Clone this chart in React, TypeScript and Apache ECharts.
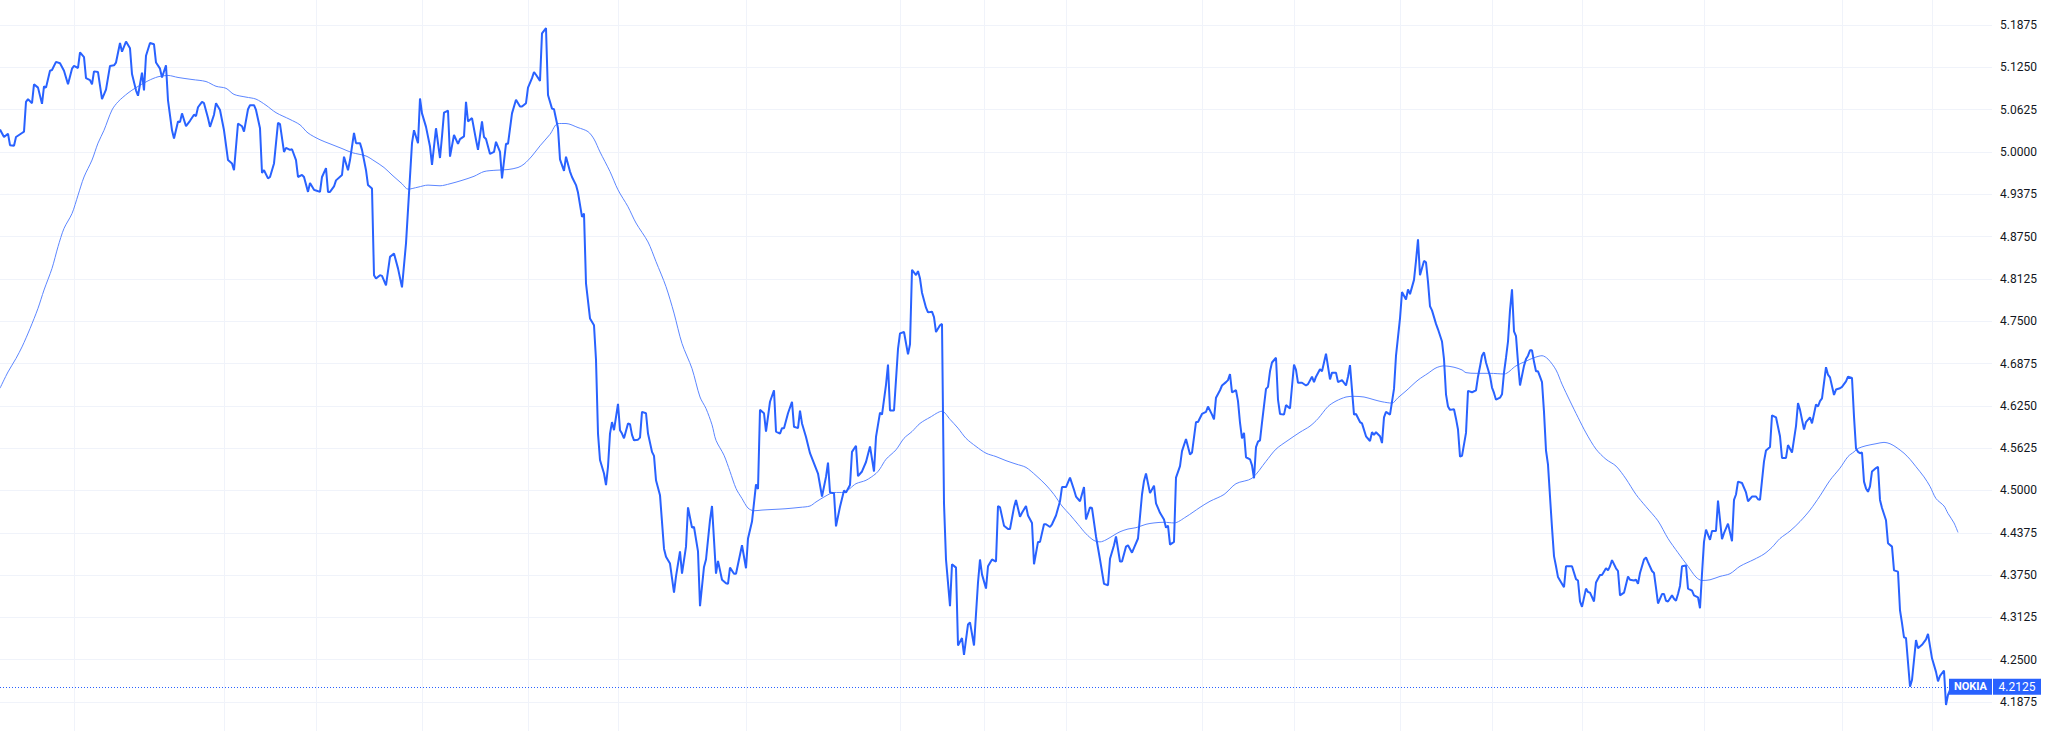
import React, { useEffect, useRef } from 'react';
import * as echarts from 'echarts';

const symbolName = 'NOKIA';
const sessionCount = 997;
const sessions = Array.from({ length: sessionCount }, (_, i) => String(i));
// sessions where the time-scale grid lines fall
const gridSessions = [37, 112, 158, 211, 264, 309, 373, 450, 492, 533, 601, 647, 700, 746, 791, 852, 921, 966];
const yMin = 4.1875;
const yMax = 5.1875;
const yStep = 0.0625;

// [session, close]
const price: [number, number][] = [
  [0,5.033],[2,5.022],[4,5.027],[5,5.010],[7,5.009],[8,5.022],[11,5.028],[12,5.030],[13,5.074],[14,5.078],[16,5.072],[17,5.100],[19,5.095],[21,5.071],[22,5.097],[23,5.095],[25,5.120],[26,5.121],[28,5.133],[30,5.131],[32,5.120],[34,5.100],[36,5.123],[37,5.127],[39,5.124],[40,5.147],[42,5.140],[43,5.109],[45,5.106],[46,5.100],[47,5.119],[49,5.118],[51,5.078],[53,5.092],[55,5.127],[57,5.128],[58,5.132],[60,5.161],[61,5.148],[63,5.163],[65,5.153],[66,5.115],[68,5.091],[69,5.083],[71,5.117],[72,5.091],[73,5.142],[75,5.161],[77,5.159],[78,5.132],[80,5.123],[81,5.110],[83,5.128],[84,5.076],[86,5.032],[87,5.020],[89,5.045],[90,5.044],[91,5.057],[93,5.038],[95,5.046],[97,5.055],[98,5.053],[99,5.066],[101,5.074],[102,5.072],[104,5.050],[105,5.037],[107,5.055],[108,5.072],[110,5.062],[112,5.032],[113,5.010],[114,4.988],[116,4.983],[117,4.973],[119,5.042],[121,5.038],[122,5.030],[124,5.063],[125,5.069],[127,5.069],[128,5.062],[130,5.035],[131,4.969],[132,4.973],[134,4.961],[135,4.963],[137,4.983],[139,5.043],[140,5.041],[142,5.000],[143,5.006],[145,5.003],[146,5.004],[148,4.988],[149,4.963],[151,4.966],[152,4.963],[154,4.941],[155,4.954],[157,4.944],[158,4.943],[160,4.941],[161,4.963],[163,4.976],[164,4.941],[165,4.941],[167,4.949],[168,4.958],[171,4.966],[172,4.993],[174,4.973],[175,4.988],[177,5.028],[178,5.013],[180,5.013],[181,5.003],[183,4.973],[184,4.951],[186,4.946],[187,4.818],[188,4.813],[190,4.818],[191,4.817],[193,4.803],[195,4.845],[197,4.850],[199,4.828],[201,4.800],[203,4.865],[206,5.013],[207,5.032],[209,5.013],[210,5.079],[211,5.057],[213,5.037],[215,5.008],[216,4.981],[218,5.035],[220,4.991],[221,5.023],[222,5.058],[224,5.061],[225,4.993],[227,5.025],[229,5.012],[230,5.019],[232,5.023],[233,5.074],[234,5.045],[236,5.050],[238,5.018],[239,5.003],[241,5.045],[242,5.022],[243,5.019],[245,4.997],[247,5.000],[248,5.015],[250,5.000],[251,4.961],[253,5.012],[254,5.012],[256,5.057],[258,5.077],[260,5.067],[261,5.067],[263,5.072],[264,5.095],[266,5.109],[267,5.118],[268,5.114],[270,5.105],[271,5.175],[273,5.183],[274,5.084],[276,5.064],[277,5.063],[279,5.035],[280,4.989],[282,4.972],[283,4.993],[285,4.971],[286,4.963],[288,4.951],[289,4.940],
  [291,4.904],[292,4.909],[293,4.806],[295,4.754],[297,4.744],[298,4.693],[299,4.584],[300,4.545],[302,4.525],[303,4.508],[304,4.535],[305,4.584],[306,4.601],[307,4.589],[309,4.628],[310,4.589],[311,4.584],[312,4.577],[314,4.599],[315,4.598],[316,4.582],[317,4.574],[319,4.575],[320,4.578],[321,4.616],[323,4.614],[324,4.584],[326,4.557],[327,4.551],[328,4.515],[330,4.493],[332,4.414],[333,4.402],[335,4.392],[337,4.349],[338,4.373],[340,4.410],[341,4.377],[343,4.417],[344,4.475],[346,4.445],[347,4.446],[349,4.410],[350,4.329],[352,4.387],[353,4.398],[355,4.456],[356,4.477],[358,4.377],[359,4.396],[361,4.368],[363,4.363],[364,4.362],[365,4.386],[367,4.377],[368,4.377],[370,4.405],[371,4.419],[373,4.385],[374,4.429],[376,4.454],[378,4.509],[379,4.502],[380,4.619],[382,4.614],[383,4.587],[385,4.631],[387,4.648],[388,4.587],[390,4.584],[391,4.592],[392,4.592],[394,4.614],[396,4.631],[397,4.594],[399,4.592],[400,4.618],[401,4.599],[403,4.579],[405,4.555],[407,4.540],[409,4.525],[411,4.491],[413,4.520],[414,4.541],[415,4.497],[417,4.496],[418,4.447],[420,4.476],[422,4.500],[423,4.497],[425,4.508],[426,4.557],[428,4.566],[429,4.521],[431,4.528],[433,4.542],[435,4.565],[437,4.528],[438,4.579],[440,4.615],[441,4.612],[443,4.656],[444,4.686],[445,4.618],[447,4.618],[449,4.709],[450,4.732],[452,4.734],[454,4.701],[455,4.716],[456,4.826],[458,4.818],[459,4.824],[460,4.813],[461,4.792],[463,4.770],[464,4.763],[466,4.764],[467,4.756],[468,4.734],[470,4.744],[471,4.746],[472,4.481],[473,4.398],[475,4.329],[476,4.391],[478,4.386],[479,4.271],[481,4.282],[482,4.257],[484,4.302],[485,4.305],[487,4.271],[489,4.364],[490,4.398],[491,4.376],[493,4.355],[494,4.388],[496,4.398],[498,4.395],[499,4.477],[500,4.475],[502,4.448],[504,4.443],[505,4.443],[507,4.475],[508,4.486],[510,4.461],[511,4.467],[513,4.477],[514,4.463],[516,4.452],[517,4.391],[519,4.424],[520,4.424],[522,4.450],[523,4.450],[525,4.446],[526,4.450],[528,4.463],[530,4.484],[531,4.505],[533,4.505],[534,4.512],[535,4.519],[537,4.501],[538,4.491],[540,4.484],[542,4.505],[543,4.457],[545,4.475],[546,4.474],[548,4.432],[550,4.398],[552,4.362],[554,4.360],[555,4.399],[557,4.419],[558,4.432],[560,4.395],[561,4.395],[563,4.417],[564,4.419],[566,4.408],[567,4.415],[569,4.429],[571,4.494],[572,4.514],[573,4.525],[575,4.496],[577,4.507],[578,4.481],[580,4.467],[582,4.457],[583,4.445],[584,4.448],[585,4.420],[587,4.424],[588,4.519],[590,4.536],[591,4.558],[593,4.576],[595,4.553],[596,4.556],
  [598,4.601],[599,4.601],[601,4.613],[603,4.616],[604,4.624],[606,4.612],[607,4.605],[608,4.637],[610,4.648],[611,4.655],[613,4.660],[614,4.663],[615,4.672],[616,4.645],[618,4.648],[619,4.632],[620,4.600],[621,4.577],[622,4.585],[623,4.549],[625,4.546],[626,4.537],[627,4.518],[628,4.564],[629,4.572],[630,4.574],[631,4.600],[633,4.650],[634,4.653],[635,4.676],[636,4.689],[638,4.696],[639,4.634],[640,4.613],[642,4.612],[643,4.626],[645,4.621],[647,4.686],[648,4.678],[649,4.659],[651,4.659],[653,4.655],[654,4.657],[656,4.668],[657,4.660],[658,4.668],[660,4.679],[661,4.676],[663,4.702],[665,4.664],[666,4.674],[668,4.674],[669,4.660],[671,4.663],[673,4.655],[674,4.668],[675,4.685],[677,4.612],[678,4.613],[680,4.601],[681,4.599],[683,4.580],[685,4.573],[686,4.586],[687,4.582],[688,4.586],[690,4.580],[691,4.570],[692,4.608],[693,4.616],[695,4.612],[697,4.650],[698,4.699],[700,4.754],[701,4.793],[703,4.782],[704,4.797],[705,4.790],[707,4.811],[708,4.839],[709,4.871],[710,4.818],[712,4.839],[713,4.837],[714,4.808],[715,4.772],[716,4.766],[718,4.746],[719,4.738],[721,4.720],[722,4.694],[723,4.642],[724,4.624],[725,4.619],[727,4.620],[728,4.606],[729,4.590],[730,4.550],[731,4.551],[733,4.585],[734,4.647],[736,4.645],[738,4.648],[739,4.668],[740,4.683],[741,4.699],[742,4.704],[743,4.689],[745,4.669],[746,4.652],[747,4.644],[748,4.634],[750,4.637],[751,4.642],[752,4.674],[753,4.696],[754,4.720],[755,4.766],
  [756,4.797],[757,4.735],[758,4.728],[759,4.689],[760,4.655],[762,4.684],[763,4.694],[764,4.699],[765,4.707],[766,4.707],[767,4.690],[768,4.676],[769,4.676],[770,4.668],[771,4.660],[772,4.616],[773,4.559],[774,4.538],[775,4.491],[776,4.445],[777,4.403],[778,4.388],[779,4.372],[780,4.367],[782,4.357],[783,4.388],[785,4.388],[786,4.388],[788,4.369],[789,4.367],[790,4.336],[791,4.328],[793,4.355],[794,4.350],[795,4.349],[797,4.336],[798,4.364],[800,4.375],[801,4.375],[803,4.385],[804,4.382],[805,4.388],[806,4.397],[808,4.385],[809,4.381],[810,4.345],[812,4.349],[814,4.373],[815,4.368],[817,4.367],[818,4.368],[819,4.362],[820,4.378],[822,4.398],[823,4.401],[824,4.394],[826,4.381],[827,4.378],[828,4.356],[829,4.333],[831,4.347],[832,4.347],[833,4.337],[834,4.336],[836,4.345],[837,4.340],[838,4.337],[839,4.347],[840,4.359],[841,4.388],[843,4.389],[844,4.355],[846,4.352],[847,4.345],[849,4.342],[850,4.326],[851,4.377],[852,4.424],[853,4.442],[855,4.427],[856,4.440],[858,4.440],[859,4.485],[861,4.428],[862,4.437],[864,4.451],[866,4.425],[867,4.486],[868,4.494],[869,4.513],[871,4.511],[873,4.497],[874,4.484],[876,4.491],[878,4.491],[879,4.487],[880,4.486],[882,4.543],[883,4.559],[885,4.564],[886,4.611],[888,4.608],[890,4.580],[891,4.548],[893,4.548],[894,4.567],[896,4.556],[898,4.595],[899,4.629],[900,4.619],[902,4.590],[903,4.601],[905,4.608],[906,4.599],[908,4.627],[909,4.624],[910,4.632],
  [911,4.636],[913,4.682],[914,4.671],[915,4.667],[917,4.641],[918,4.649],[920,4.651],[921,4.653],[923,4.661],[924,4.668],[926,4.666],[927,4.609],[928,4.562],[929,4.557],[930,4.555],[931,4.556],[932,4.513],[933,4.503],[934,4.498],[935,4.506],[936,4.528],[938,4.533],[939,4.535],[940,4.486],[941,4.474],[943,4.456],[944,4.422],[946,4.417],[947,4.382],[949,4.380],[950,4.323],[951,4.304],[952,4.283],[953,4.282],[955,4.210],[956,4.220],[958,4.279],[959,4.267],[961,4.272],[963,4.280],[964,4.288],[966,4.252],[968,4.232],[969,4.218],[970,4.226],[972,4.234],[973,4.183],[974,4.198],[976,4.2125],
];

// [session, moving average]
const movingAverage: [number, number][] = [
  [0,4.651],[4,4.675],[8,4.695],[11,4.712],[15,4.739],[19,4.769],[22,4.796],[26,4.828],[29,4.860],[32,4.887],[36,4.909],[39,4.936],[42,4.963],[46,4.988],[49,5.013],[52,5.032],[56,5.062],[59,5.074],[64,5.087],[68,5.095],[74,5.105],[79,5.111],[84,5.113],[89,5.110],[96,5.107],[103,5.104],[108,5.097],[113,5.094],[117,5.085],[123,5.081],[128,5.078],[133,5.069],[138,5.058],[145,5.048],[150,5.040],[154,5.028],[160,5.018],[165,5.012],[171,5.005],[176,4.999],[183,4.994],[187,4.987],[192,4.977],[196,4.966],[201,4.953],[204,4.945],[209,4.948],[214,4.951],[220,4.950],[225,4.953],[231,4.958],[237,4.964],[242,4.971],[248,4.973],[254,4.974],[259,4.977],[262,4.982],[266,4.994],[270,5.009],[275,5.026],[279,5.042],[283,5.042],[289,5.036],[294,5.030],[297,5.019],[300,5.000],[305,4.971],[309,4.944],[314,4.919],[318,4.895],[324,4.867],[328,4.838],[333,4.801],[337,4.762],[341,4.717],[346,4.680],[350,4.638],[353,4.621],[356,4.597],[358,4.574],[362,4.552],[365,4.528],[368,4.503],[371,4.488],[374,4.474],[377,4.470],[381,4.471],[387,4.472],[393,4.473],[400,4.475],[405,4.477],[408,4.483],[413,4.492],[417,4.497],[422,4.497],[425,4.503],[428,4.510],[433,4.515],[438,4.525],[440,4.532],[443,4.546],[448,4.560],[452,4.577],[456,4.587],[460,4.599],[465,4.608],[471,4.617],[475,4.605],[479,4.592],[483,4.577],[488,4.565],[493,4.555],[498,4.550],[503,4.544],[508,4.539],[513,4.534],[518,4.522],[523,4.508],[527,4.494],[531,4.477],[535,4.464],[539,4.450],[543,4.436],[547,4.426],[550,4.424],[553,4.427],[557,4.434],[560,4.439],[564,4.443],[568,4.445],[573,4.450],[577,4.452],[582,4.453],[587,4.452],[593,4.461],[600,4.475],[605,4.484],[612,4.494],[618,4.510],[626,4.518],[633,4.543],[638,4.561],[644,4.574],[650,4.586],[655,4.595],[659,4.606],[664,4.624],[668,4.632],[673,4.638],[677,4.639],[682,4.638],[687,4.634],[691,4.631],[696,4.629],[699,4.637],[703,4.647],[709,4.663],[714,4.673],[718,4.681],[722,4.684],[727,4.682],[731,4.678],[733,4.674],[738,4.673],[745,4.673],[752,4.672],[758,4.684],[763,4.691],[767,4.696],[771,4.699],[774,4.694],[778,4.678],[781,4.657],[785,4.632],[789,4.608],[793,4.585],[798,4.561],[803,4.546],[808,4.536],[813,4.517],[818,4.494],[823,4.476],[829,4.455],[834,4.429],[839,4.408],[844,4.388],[848,4.372],[851,4.367],[855,4.368],[860,4.373],[865,4.377],[870,4.388],[877,4.398],[882,4.406],[886,4.416],[890,4.429],[895,4.440],[900,4.454],[905,4.471],[910,4.492],[915,4.515],[920,4.533],[924,4.550],[927,4.557],[929,4.562],[933,4.566],[938,4.569],[942,4.571],[945,4.569],[948,4.564],[952,4.555],[955,4.546],[958,4.535],[962,4.520],[965,4.506],[968,4.488],[972,4.477],[974,4.466],[977,4.452],[979,4.438],
];

export default function App() {
  const ref = useRef<HTMLDivElement>(null);

  useEffect(() => {
    if (!ref.current) return;
    const chart = echarts.init(ref.current, undefined, { renderer: 'svg' });
    const lastClose = price[price.length - 1][1];
    const font = 'Roboto, "Noto Sans", sans-serif';

    chart.setOption({
      animation: false,
      backgroundColor: '#ffffff',
      grid: [
        { left: 0, right: 56, top: 0, bottom: 0 },
        { left: 0, right: 56, top: 25, bottom: 29 },
      ],
      xAxis: [
        {
          type: 'category',
          gridIndex: 0,
          data: sessions,
          boundaryGap: false,
          axisLine: { show: false },
          axisTick: { show: false },
          axisLabel: { show: false },
          splitLine: {
            show: true,
            interval: (index: number) => gridSessions.includes(index),
            lineStyle: { color: '#f0f3fa', width: 1 },
          },
        },
        {
          type: 'value',
          gridIndex: 1,
          min: 0,
          max: sessionCount - 1,
          show: false,
          splitLine: { show: false },
        },
      ],
      yAxis: [
        { type: 'value', gridIndex: 0, show: false, splitLine: { show: false } },
        {
          type: 'value',
          gridIndex: 1,
          position: 'right',
          min: yMin,
          max: yMax,
          interval: yStep,
          axisLine: { show: false },
          axisTick: { show: false },
          axisLabel: {
            formatter: (v: number) => v.toFixed(4),
            color: '#131722',
            fontSize: 12,
            fontFamily: font,
            margin: 8,
          },
          splitLine: { show: true, lineStyle: { color: '#f0f3fa', width: 1 } },
        },
      ],
      series: [
        {
          type: 'line',
          name: 'MA',
          xAxisIndex: 1,
          yAxisIndex: 1,
          data: movingAverage,
          showSymbol: false,
          smooth: 0.3,
          clip: false,
          silent: true,
          z: 2,
          lineStyle: { color: '#5c86ff', width: 1 },
        },
        {
          type: 'line',
          name: symbolName,
          xAxisIndex: 1,
          yAxisIndex: 1,
          data: price,
          showSymbol: false,
          clip: false,
          silent: true,
          z: 3,
          lineStyle: { color: '#2962ff', width: 2 },
          markLine: {
            silent: true,
            symbol: ['none', 'none'],
            lineStyle: { color: '#2962ff', type: [1, 2], width: 1 },
            data: [{ yAxis: lastClose }],
            label: {
              show: true,
              position: 'end',
              distance: -43,
              formatter: `{n|${symbolName}}{g| }{v|${lastClose.toFixed(4)}}`,
              rich: {
                n: {
                  backgroundColor: '#2962ff',
                  color: '#ffffff',
                  fontSize: 11,
                  fontWeight: 'bold',
                  fontFamily: font,
                  width: 43,
                  height: 16,
                  lineHeight: 16,
                  align: 'center',
                },
                g: { width: 1, height: 16, fontSize: 1 },
                v: {
                  backgroundColor: '#2962ff',
                  color: '#ffffff',
                  fontSize: 12,
                  fontFamily: font,
                  width: 48,
                  height: 16,
                  lineHeight: 16,
                  align: 'center',
                },
              },
            },
          },
        },
      ],
    });

    return () => chart.dispose();
  }, []);

  return (
    <div
      ref={ref}
      style={{ position: 'fixed', left: 0, top: 0, width: 2048, height: 731, background: '#ffffff' }}
    />
  );
}
